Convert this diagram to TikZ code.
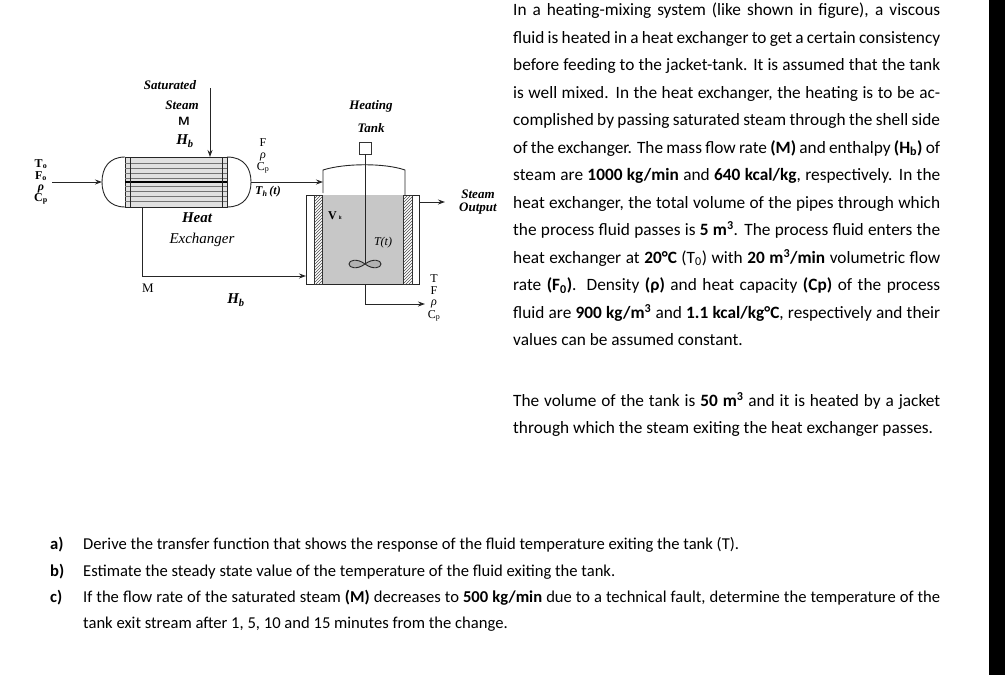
\documentclass[tikz,border=0pt]{standalone}
\usepackage{fontspec}
\setmainfont{Carlito}
\newfontfamily\figfont{Liberation Serif}
\usetikzlibrary{positioning}
\usetikzlibrary{arrows.meta}
\usetikzlibrary{patterns}
\tikzset{%
	% styles for the flow sheet
	pipe/.style = {draw=black!85, line width=0.9pt},
	flow/.style = {pipe, -{Stealth[length=7pt,width=5pt]}},
	tag/.style = {inner sep=0pt, font=\figfont\bfseries\itshape\fontsize{13pt}{14pt}\selectfont},
	sym/.style = {inner sep=0pt, font=\figfont\fontsize{13pt}{14pt}\selectfont},
	wall/.style = {draw=black!80, pattern=north east lines, pattern color=black!70},
	para/.style = {anchor=north west, inner sep=0pt, align=justify,
		font=\fontsize{17.3pt}{27.5pt}\selectfont},
	item/.style = {anchor=base west, inner sep=0pt, align=justify,
		font=\fontsize{16.6pt}{26.5pt}\selectfont}
}
\newcommand{\msup}{m\textsuperscript{3}}
\begin{document}
\begin{tikzpicture}[x=1pt, y=-1pt]
		\useasboundingbox (0,0) rectangle (1005,675);
		\fill[black] (989,0) rectangle (1005,675);
		% heat exchanger
		\draw[pipe, fill=white] (125,157) .. controls (109,157) and (102,168) .. (102,182) .. controls (102,196) and (109,207) .. (125,207);
		\draw[pipe, fill=white] (227,157) .. controls (244,157) and (251,168) .. (251,182) .. controls (251,196) and (244,207) .. (227,207);
		\node (hx) [pipe, fill=black!12, minimum width=102pt, minimum height=50pt, inner sep=0pt] at (176,182) {};
		\foreach \y in {163,168,173,178,186,191,196,201}
			\draw[black!55, line width=0.7pt] (125,\y) -- (227,\y);
		\draw[black, line width=1.2pt] (125,182) -- (227,182);
		\draw[pipe] (130,157) -- (130,207);
		\draw[pipe] (222,157) -- (222,207);
		% tank
		\coordinate (tankin) at (323,182);
		\fill[black!22] (322,195) rectangle (403,284);
		\draw[pipe] (323,193) -- (323,170) .. controls (345,163) and (385,163) .. (405,170) -- (405,195);
		\draw[pipe] (306,284) -- (306,195) -- (314,195);
		\draw[pipe] (419,195) -- (412,195);
		\draw[pipe] (419,195) -- (419,284) -- (306,284);
		\draw[wall] (314,195) rectangle (322,284);
		\draw[wall] (403,195) rectangle (412,284);
		\node (motor) [draw=black!80, line width=0.8pt, minimum size=12pt, inner sep=0pt] at (365,148) {};
		\coordinate (hub) at (365,264);
		\draw[pipe] (motor.south) -- (hub);
		\draw[pipe, fill=black!30] (hub) .. controls (357,258) and (349,260) .. (349,264) .. controls (349,268) and (357,270) .. (hub) .. controls (373,258) and (381,260) .. (381,264) .. controls (381,268) and (373,270) .. (hub);
		% streams
		\coordinate (feedIn) at (52,182);
		\coordinate (hxLeft) at (102,182);
		\coordinate (hxRight) at (251,182);
		\coordinate (steamTop) at (210,88);
		\coordinate (steamIn) at (210,157);
		\coordinate (retTop) at (142,207);
		\coordinate (retCorner) at (142,276);
		\coordinate (jacketIn) at (306,276);
		\coordinate (jacketOut) at (419,202);
		\coordinate (steamEnd) at (445,202);
		\coordinate (bottomOut) at (365,284);
		\coordinate (bottomCorner) at (365,304);
		\coordinate (prodEnd) at (425,304);
		\draw[flow] (feedIn) -- (hxLeft);
		\draw[flow] (steamTop) -- (steamIn);
		\draw[flow] (hxRight) -- (tankin);
		\draw[flow] (retTop) -- (retCorner) -- (jacketIn);
		\draw[flow] (jacketOut) -- (steamEnd);
		\draw[flow] (bottomOut) -- (bottomCorner) -- (prodEnd);
		% labels
		\node (sat) [tag] at (170,85) {Saturated};
		\node (stm) [tag] at (182,105) {Steam};
		\node (mIn) [sym, font=\sffamily\bfseries\fontsize{12pt}{13pt}\selectfont] at (184,121) {M};
		\node (hIn) [tag, font=\figfont\bfseries\itshape\fontsize{15pt}{16pt}\selectfont] at (185,141) {H\textsubscript{b}};
		\node (inLbl) [sym, align=center, font=\figfont\bfseries\fontsize{12pt}{15pt}\selectfont] at (41,182) {T\textsubscript{o}\\[-3pt]F\textsubscript{o}\\[-4pt]\itshape ρ\\[-4pt]C\textsubscript{p}};
		\node (hxOut) [sym, align=center, font=\figfont\fontsize{12pt}{15pt}\selectfont] at (263,156) {F\\[-3pt]\itshape ρ\\[-3pt]C\textsubscript{p}};
		\node (thLbl) [sym, font=\figfont\bfseries\itshape\fontsize{12pt}{13pt}\selectfont] at (268,192) {T\textsubscript{h}\,(t)};
		\node (heating) [tag] at (371,106) {Heating};
		\node (tankLbl) [tag] at (371,128) {Tank};
		\node (heat) [tag, font=\figfont\bfseries\itshape\fontsize{15pt}{16pt}\selectfont] at (197,218) {Heat};
		\node (exch) [tag, font=\figfont\itshape\fontsize{15pt}{16pt}\selectfont] at (202,240) {Exchanger};
		\node (mRet) [sym] at (148,288) {M};
		\node (hRet) [tag, font=\figfont\bfseries\itshape\fontsize{15pt}{16pt}\selectfont] at (236,300) {H\textsubscript{b}};
		\node (stOut) [tag, align=center] at (478,202) {Steam\\[-1pt]Output};
		\node (vol) [sym, font=\figfont\bfseries\fontsize{12pt}{12pt}\selectfont] at (335,216) {V\,{\tiny lt}};
		\node (tempT) [tag, font=\figfont\itshape\fontsize{12pt}{12pt}\selectfont] at (383,243) {T(t)};
		\node (prodLbl) [sym, align=center, font=\figfont\fontsize{12pt}{15pt}\selectfont] at (434,298) {T\\[-3pt]F\\[-4pt]\itshape ρ\\[-2pt]C\textsubscript{p}};
		% problem text
		\node (intro) [para, text width=427pt] at (513,3) {In a heating-mixing system (like shown in figure), a viscous fluid is heated in a heat exchanger to get a certain consistency before feeding to the jacket-tank. It is assumed that the tank is well mixed. In the heat exchanger, the heating is to be accomplished by passing saturated steam through the shell side of the exchanger. The mass flow rate \textbf{(M)} and enthalpy \textbf{(H\textsubscript{b})} of steam are \textbf{1000 kg/min} and \textbf{640 kcal/kg}, respectively. In the heat exchanger, the total volume of the pipes through which the process fluid passes is \textbf{5 \msup}. The process fluid enters the heat exchanger at \textbf{20°C} (T\textsubscript{0}) with \textbf{20 \msup/min} volumetric flow rate \textbf{(F\textsubscript{0})}. Density \textbf{(ρ)} and heat capacity \textbf{(Cp)} of the process fluid are \textbf{900 kg/\msup} and \textbf{1.1 kcal/kg°C}, respectively and their values can be assumed constant.};
		\node (tankPara) [para, text width=427pt] at (513,392) {The volume of the tank is \textbf{50 \msup} and it is heated by a jacket through which the steam exiting the heat exchanger passes.};
		\node (qa) [item, font=\fontsize{16.6pt}{18pt}\selectfont\bfseries] at (50,549) {a)};
		\node (qaText) [item] at (83,549) {Derive the transfer function that shows the response of the fluid temperature exiting the tank (T).};
		\node (qb) [item, font=\fontsize{16.6pt}{18pt}\selectfont\bfseries] at (50,576) {b)};
		\node (qbText) [item] at (83,576) {Estimate the steady state value of the temperature of the fluid exiting the tank.};
		\node (qc) [item, font=\fontsize{16.6pt}{18pt}\selectfont\bfseries] at (50,602) {c)};
		\node (qcText) [item, text width=857pt] at (83,602) {If the flow rate of the saturated steam \textbf{(M)} decreases to \textbf{500 kg/min} due to a technical fault, determine the temperature of the tank exit stream after 1, 5, 10 and 15 minutes from the change.};
\end{tikzpicture}
\end{document}
